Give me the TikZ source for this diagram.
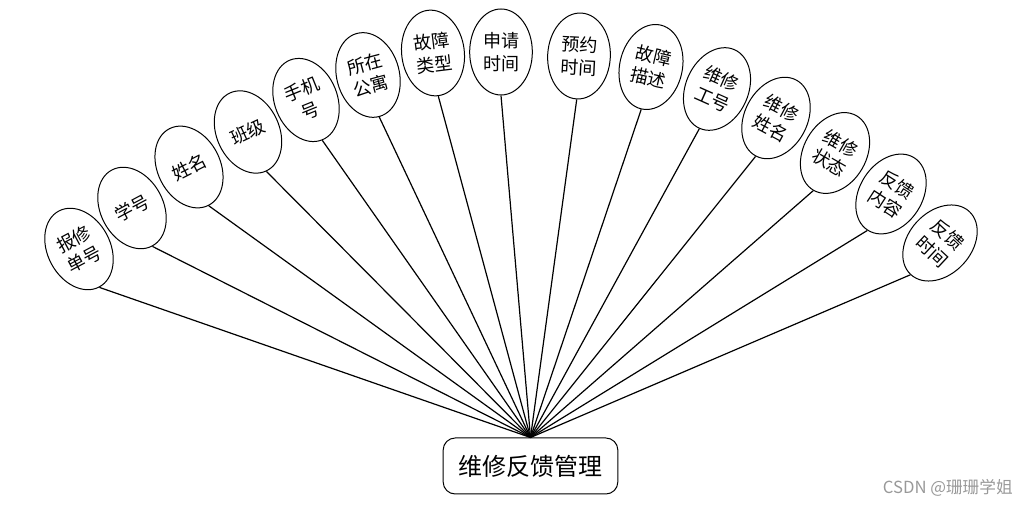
\documentclass[tikz,border=0pt]{standalone}
\usepackage{fontspec}
\newfontfamily\cjk{Noto Sans CJK SC}
\usetikzlibrary{shapes.geometric}

\begin{document}
\begin{tikzpicture}[
    x=0.75pt, y=0.75pt,
    attr/.style={
        ellipse,
        draw=black,
        line width=0.75pt,
        minimum width=47pt,
        minimum height=64.5pt,
        inner sep=0pt,
        align=center,
        font=\cjk\fontsize{13.5}{17}\selectfont
    },
    entity/.style={
        draw=black,
        rounded corners=9pt,
        line width=0.75pt,
        minimum width=131pt,
        minimum height=42pt,
        align=center,
        font=\cjk\fontsize{18}{22}\selectfont
    },
    link/.style={line width=0.9pt}
]
\useasboundingbox (0,0) rectangle (1028,506);

\node[entity] (fb) at (530.5,40) {维修反馈管理};

\node[attr, rotate=28] (bxdh) at (79,257) {报修\\单号};
\node[attr, rotate=28] (xh) at (132,298) {学号};
\node[attr, rotate=27] (xm) at (189,339) {姓名};
\node[attr, rotate=25] (bj) at (248,374) {班级};
\node[attr, rotate=22] (sjh) at (306,406) {手机\\号};
\node[attr, rotate=15] (szgy) at (368,431) {所在\\公寓};
\node[attr, rotate=7] (gzlx) at (433,453) {故障\\类型};
\node[attr] (sqsj) at (501,454) {申请\\时间};
\node[attr, rotate=-3] (yysj) at (579,450) {预约\\时间};
\node[attr, rotate=-13] (gzms) at (651,439) {故障\\描述};
\node[attr, rotate=-24] (wxgh) at (717,417) {维修\\工号};
\node[attr, rotate=-28] (wxxm) at (776,388) {维修\\姓名};
\node[attr, rotate=-30] (wxzt) at (835,353) {维修\\状态};
\node[attr, rotate=-33] (fknr) at (891,312) {反馈\\内容};
\node[attr, rotate=-43] (fksj) at (940,263) {反馈\\时间};

\draw[link] (bxdh.south) -- (fb.north);
\draw[link] (xh.south) -- (fb.north);
\draw[link] (xm.south) -- (fb.north);
\draw[link] (bj.south) -- (fb.north);
\draw[link] (sjh.south) -- (fb.north);
\draw[link] (szgy.south) -- (fb.north);
\draw[link] (gzlx.south) -- (fb.north);
\draw[link] (sqsj.south) -- (fb.north);
\draw[link] (yysj.south) -- (fb.north);
\draw[link] (gzms.south) -- (fb.north);
\draw[link] (wxgh.south) -- (fb.north);
\draw[link] (wxxm.south) -- (fb.north);
\draw[link] (wxzt.south) -- (fb.north);
\draw[link] (fknr.south) -- (fb.north);
\draw[link] (fksj.south) -- (fb.north);

\node[font=\cjk\fontsize{12.5}{14}\selectfont, text=black!40, anchor=east, inner sep=0pt] (mark) at (1013,18) {CSDN @珊珊学姐};

\end{tikzpicture}
\end{document}
